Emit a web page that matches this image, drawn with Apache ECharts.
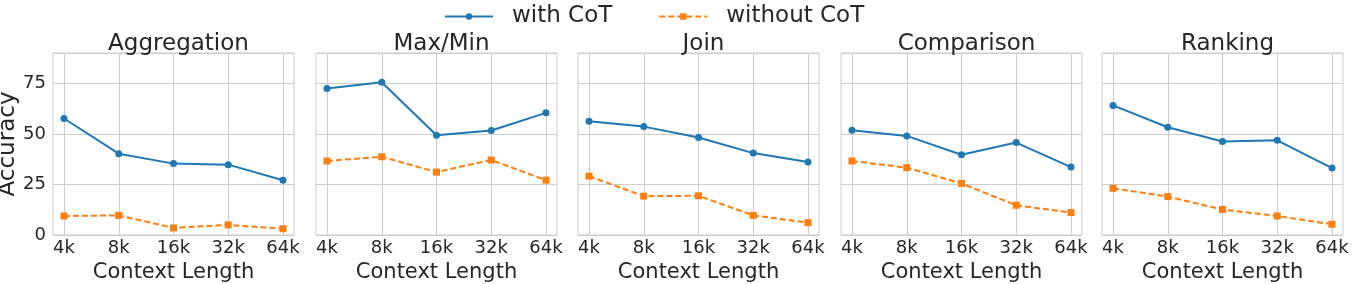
<!DOCTYPE html>
<html>
<head>
    <meta charset="utf-8"/>
    <title>CoT accuracy by context length</title>
    <script src="https://cdn.jsdelivr.net/npm/echarts@6/dist/echarts.min.js"></script>
    <style>
        html, body { margin: 0; padding: 0; background: #fff; }
        #chart { width: 1353px; height: 284px; }
    </style>
</head>
<body>
<div id="chart"></div>
<script>
    // data
    var contextLengths = ['4k', '8k', '16k', '32k', '64k'];
    var tasks = ['Aggregation', 'Max/Min', 'Join', 'Comparison', 'Ranking'];
    var yTicks = [0, 25, 50, 75];

    var withCoT = [
        [57.6, 40.2, 35.3, 34.8, 27.1],   // Aggregation
        [72.5, 75.5, 49.3, 51.7, 60.4],   // Max/Min
        [56.3, 53.6, 48.2, 40.5, 36.1],   // Join
        [51.8, 49.0, 39.7, 45.7, 33.6],   // Comparison
        [64.1, 53.3, 46.2, 46.8, 33.1]    // Ranking
    ];
    var withoutCoT = [
        [9.4, 9.7, 3.5, 5.0, 3.1],
        [36.6, 38.7, 31.1, 37.1, 27.1],
        [29.1, 19.2, 19.4, 9.7, 6.1],
        [36.6, 33.3, 25.5, 14.7, 11.1],
        [23.1, 19.0, 12.6, 9.4, 5.3]
    ];

    var txt = '#262626';
    var gridCol = '#cccccc';
    var font = 'DejaVu Sans';
    var lefts = [53, 316, 578, 841, 1102];
    var plotW = 241, plotTop = 53, plotH = 182;
    var pad = 11; // matplotlib x margin (0.2 of a category step)

    function pairs(arr) {
        return arr.map(function (v, i) { return [i, v]; });
    }

    var grids = [], xAxes = [], yAxes = [], titles = [], series = [];
    for (var k = 0; k < tasks.length; k++) {
        var outer = grids.length;
        // outer frame: border + horizontal grid lines + y labels
        grids.push({
            left: lefts[k], top: plotTop, width: plotW, height: plotH,
            containLabel: false, outerBoundsMode: 'none',
            show: true, borderColor: gridCol, borderWidth: 1, backgroundColor: '#fff'
        });
        xAxes.push({gridIndex: outer, type: 'value', min: 0, max: 1, show: false});
        yAxes.push({
            gridIndex: outer,
            type: 'value',
            min: 0, max: 90, interval: 25,
            name: k === 0 ? 'Accuracy' : '',
            nameLocation: 'middle',
            nameGap: 29,
            nameTextStyle: {fontFamily: font, fontSize: 23, color: txt},
            axisLine: {show: false},
            axisTick: {show: false},
            axisLabel: {
                show: k === 0,
                fontFamily: font, fontSize: 18, color: txt, margin: 7,
                showMaxLabel: false,
                formatter: function (v) { return yTicks.indexOf(v) >= 0 ? String(v) : ''; }
            },
            splitLine: {show: true, lineStyle: {color: gridCol, width: 1}}
        });

        // inner data area: categories sit at integer positions
        var inner = grids.length;
        grids.push({
            left: lefts[k] + pad, top: plotTop, width: plotW - 2 * pad, height: plotH,
            containLabel: false, outerBoundsMode: 'none'
        });
        xAxes.push({
            gridIndex: inner,
            type: 'value',
            min: 0, max: 4, interval: 1,
            name: 'Context Length',
            nameLocation: 'middle',
            nameGap: 25,
            nameTextStyle: {fontFamily: font, fontSize: 21, color: txt},
            axisLine: {show: false},
            axisTick: {show: false},
            axisLabel: {
                fontFamily: font, fontSize: 18, color: txt, margin: 4,
                formatter: function (v) { return contextLengths[Math.round(v)] || ''; }
            },
            splitLine: {show: true, lineStyle: {color: gridCol, width: 1}}
        });
        yAxes.push({gridIndex: inner, type: 'value', min: 0, max: 90, show: false});

        titles.push({
            text: tasks[k],
            left: lefts[k] + plotW / 2,
            top: 28,
            textAlign: 'center',
            textStyle: {fontFamily: font, fontSize: 23, fontWeight: 'normal', color: txt}
        });
        series.push({
            name: 'with CoT',
            type: 'line',
            xAxisIndex: inner, yAxisIndex: inner,
            data: pairs(withCoT[k]),
            symbol: 'circle', symbolSize: 7,
            itemStyle: {color: '#1f77b4'},
            lineStyle: {color: '#1f77b4', width: 2},
            emphasis: {disabled: true}
        });
        series.push({
            name: 'without CoT',
            type: 'line',
            xAxisIndex: inner, yAxisIndex: inner,
            data: pairs(withoutCoT[k]),
            symbol: 'rect', symbolSize: 7,
            itemStyle: {color: '#ff7f0e'},
            lineStyle: {color: '#ff7f0e', width: 2, type: [6, 3]},
            emphasis: {disabled: true}
        });
    }

    var chart = echarts.init(document.getElementById('chart'), null, {renderer: 'canvas'});
    chart.setOption({
        animation: false,
        backgroundColor: '#fff',
        title: titles,
        legend: {
            left: 439, top: 0,
            itemWidth: 48, itemHeight: 8, itemGap: 46,
            data: ['with CoT', 'without CoT'],
            textStyle: {fontFamily: font, fontSize: 23, color: txt, padding: [0, 0, 0, 14]}
        },
        grid: grids,
        xAxis: xAxes,
        yAxis: yAxes,
        series: series
    });
</script>
</body>
</html>
